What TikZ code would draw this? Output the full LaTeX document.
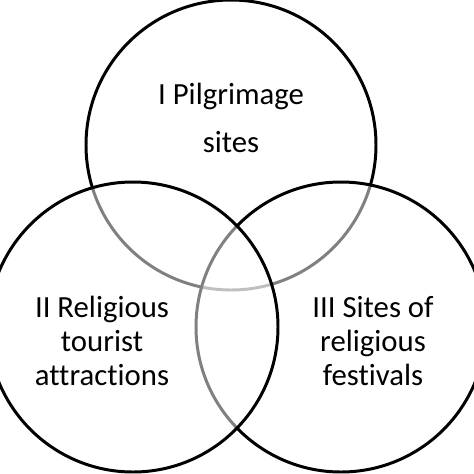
\documentclass[tikz,border=0pt]{standalone}
\usepackage{fontspec}
\setmainfont{Carlito}[RawFeature=-liga]
\setsansfont{Carlito}[RawFeature=-liga]
\usepackage{tikz}
\usetikzlibrary{positioning}
\tikzset{
  font=\sffamily,
  ring/.style={draw=black, line width=1.7pt, fill=white, fill opacity=0.5},
  lab/.style={align=center, font=\fontsize{17.5}{19.5}\selectfont\sffamily, text=black}
}
\begin{document}
\begin{tikzpicture}[x=0.02cm,y=-0.02cm]
  \useasboundingbox (0,0) rectangle (474,474);
  \clip (0,0) rectangle (474,474);
  \fill[white] (0,0) rectangle (474,474);
  % the three sets
  \draw[ring] (231,145) circle (145);
  \draw[ring] (341,327) circle (145);
  \draw[ring] (133,327) circle (145);
  % labels
  \node[lab] (pilg) at (231,118) {I Pilgrimage\\[0.27cm]sites};
  \node[lab] (reli) at (102,341) {II Religious\\tourist\\attractions};
  \node[lab] (fest) at (373,341) {III Sites of\\religious\\festivals};
\end{tikzpicture}
\end{document}
